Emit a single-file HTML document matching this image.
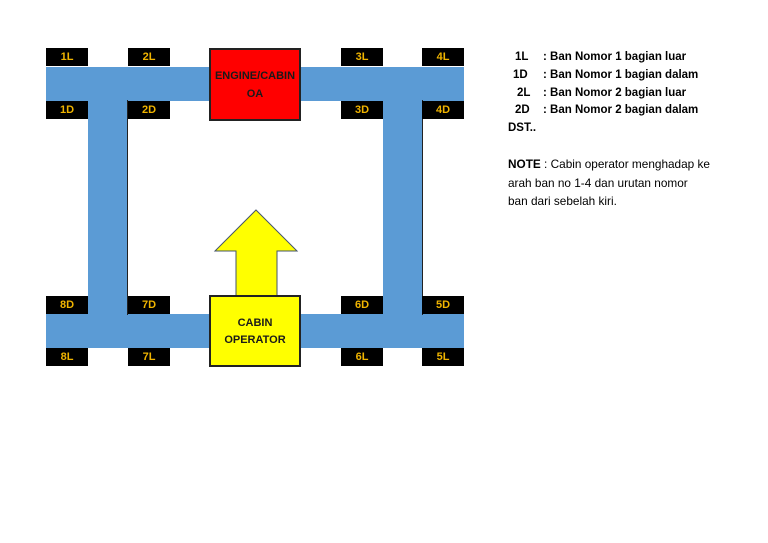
<!DOCTYPE html>
<html><head><meta charset="utf-8"><style>
body{margin:0;width:768px;height:543px;background:#fff;position:relative;overflow:hidden;font-family:"Liberation Sans",sans-serif}
.a{position:absolute}
.b{background:#5b9bd5}
.t{position:absolute;background:#000;color:#f0b400;font-weight:bold;font-size:11px;text-align:center;line-height:18px;width:42px;height:18px}
.leg{position:absolute;font-size:11.5px;font-weight:bold;color:#000;white-space:nowrap}
.n{position:absolute;font-size:11.8px;color:#000;white-space:nowrap;left:508px}
</style></head><body>
<div class="a b" style="left:46px;top:67px;width:418px;height:34px"></div>
<div class="a b" style="left:46px;top:314px;width:418px;height:34px"></div>
<div class="a b" style="left:88px;top:100px;width:39px;height:215px;border-right:1px solid #222"></div>
<div class="a b" style="left:383px;top:100px;width:39px;height:215px;border-right:1px solid #222"></div>

<div class="t" style="left:46px;top:48px">1L</div>
<div class="t" style="left:128px;top:48px">2L</div>
<div class="t" style="left:341px;top:48px">3L</div>
<div class="t" style="left:422px;top:48px">4L</div>
<div class="t" style="left:46px;top:101px">1D</div>
<div class="t" style="left:128px;top:101px">2D</div>
<div class="t" style="left:341px;top:101px">3D</div>
<div class="t" style="left:422px;top:101px">4D</div>
<div class="t" style="left:46px;top:296px">8D</div>
<div class="t" style="left:128px;top:296px">7D</div>
<div class="t" style="left:341px;top:296px">6D</div>
<div class="t" style="left:422px;top:296px">5D</div>
<div class="t" style="left:46px;top:348px">8L</div>
<div class="t" style="left:128px;top:348px">7L</div>
<div class="t" style="left:341px;top:348px">6L</div>
<div class="t" style="left:422px;top:348px">5L</div>

<div class="a" style="left:209px;top:48px;width:88px;height:69px;background:#ff0000;border:2px solid #222;font-size:11px;font-weight:bold;color:#1a1a1a;text-align:center;line-height:18px;padding-top:0">
<div style="margin-top:17px">ENGINE/CABIN</div><div>OA</div></div>

<svg class="a" style="left:0;top:0" width="768" height="543">
<polygon points="256,210 297,251 277,251 277,296 236,296 236,251 215,251" fill="#ffff00" stroke="#44546a" stroke-width="1"/>
</svg>

<div class="a" style="left:209px;top:295px;width:88px;height:68px;background:#ffff00;border:2px solid #222;font-size:11px;font-weight:bold;color:#1a1a1a;text-align:center;line-height:17px">
<div style="margin-top:18px">CABIN</div><div>OPERATOR</div></div>

<div class="leg" style="left:515px;top:51px">1L</div><div class="leg" style="left:543px;top:51px">: Ban Nomor 1 bagian luar</div>
<div class="leg" style="left:513px;top:69px">1D</div><div class="leg" style="left:543px;top:69px">: Ban Nomor 1 bagian dalam</div>
<div class="leg" style="left:517px;top:87px">2L</div><div class="leg" style="left:543px;top:87px">: Ban Nomor 2 bagian luar</div>
<div class="leg" style="left:515px;top:104px">2D</div><div class="leg" style="left:543px;top:104px">: Ban Nomor 2 bagian dalam</div>
<div class="leg" style="left:508px;top:122px">DST..</div>
<div class="n" style="top:157px"><b>NOTE</b> : Cabin operator menghadap ke</div>
<div class="n" style="top:176px">arah ban no 1-4 dan urutan nomor</div>
<div class="n" style="top:194px">ban dari sebelah kiri.</div>
</body></html>
